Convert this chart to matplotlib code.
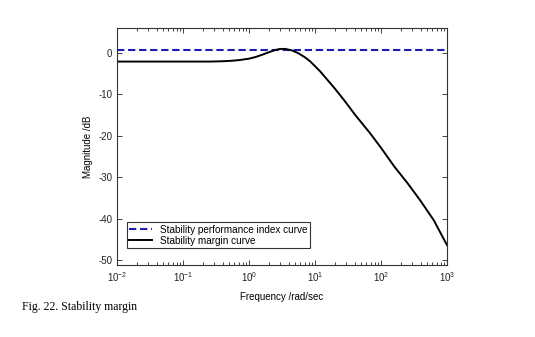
import numpy as np
import matplotlib
matplotlib.use("Agg")
import matplotlib.pyplot as plt
from matplotlib.ticker import LogLocator, NullFormatter, FixedLocator

# Data (log10 of frequency, magnitude in dB)
log_freq = [-2.0, -1.0, -0.6, -0.45, -0.3, -0.15, 0.0, 0.1, 0.2, 0.3, 0.4, 0.47, 0.55, 0.65,
            0.75, 0.85, 0.93, 1.0, 1.08, 1.15, 1.3, 1.45, 1.61, 1.83, 2.0, 2.2, 2.4,
            2.59, 2.8, 3.0]
margin_db = [-2.1, -2.1, -2.1, -2.05, -1.95, -1.75, -1.4, -1.0, -0.45, 0.15, 0.7, 0.95, 0.95, 0.6,
             -0.1, -1.1, -2.1, -3.2, -4.5, -5.8, -8.6, -11.6, -15.0, -19.3, -22.9, -27.4, -31.4,
             -35.5, -40.4, -46.4]
index_level_db = 0.6
freq_range = [1e-2, 1e3]
y_ticks = [0, -10, -20, -30, -40, -50]

freq = 10.0 ** np.array(log_freq)

plt.rcParams['font.family'] = ['Liberation Sans', 'DejaVu Sans']
plt.rcParams['axes.unicode_minus'] = False
plt.rcParams['mathtext.fontset'] = 'custom'
plt.rcParams['mathtext.rm'] = 'Liberation Sans'
plt.rcParams['mathtext.it'] = 'Liberation Sans'
fig = plt.figure(figsize=(5.35, 3.37), dpi=100)
ax = fig.add_axes([0.2187, 0.2136, 0.6168, 0.7033])

ax.semilogx(freq_range, [index_level_db, index_level_db], '--', color='#1c1cb4',
            lw=1.5, dashes=(3.5, 1.8), label='Stability performance index curve')
ax.semilogx(freq, margin_db, '-', color='black', lw=1.4, label='Stability margin curve')

ax.set_xlim(freq_range)
ax.set_ylim(-51.2, 6)
ax.yaxis.set_major_locator(FixedLocator(y_ticks))
ax.xaxis.set_major_locator(LogLocator(base=10, numticks=10))
ax.xaxis.set_minor_locator(LogLocator(base=10, subs=np.arange(2, 10), numticks=20))
ax.xaxis.set_minor_formatter(NullFormatter())
ax.tick_params(which='both', direction='in', top=True, right=True, labelsize=7,
               colors='#222222')
ax.tick_params(which='major', length=3.5, width=0.6)
ax.tick_params(which='minor', length=2, width=0.6)
for s in ax.spines.values():
    s.set_linewidth(0.8)
    s.set_color('#333333')

ax.set_xlabel('Frequency /rad/sec', fontsize=7, labelpad=6)
ax.set_ylabel('Magnitude /dB', fontsize=7, labelpad=4)

leg = ax.legend(loc='lower left', bbox_to_anchor=(0.03, 0.07), fontsize=7.2,
                frameon=True, fancybox=False, edgecolor='black', borderpad=0.25,
                handlelength=2.3, labelspacing=0.1, borderaxespad=0)
leg.get_frame().set_linewidth(0.8)

fig.text(0.041, 0.08, 'Fig. 22. Stability margin', fontsize=8.5,
         family=['Liberation Serif', 'DejaVu Serif'])

fig.savefig('out.png', dpi=100, facecolor='white')
